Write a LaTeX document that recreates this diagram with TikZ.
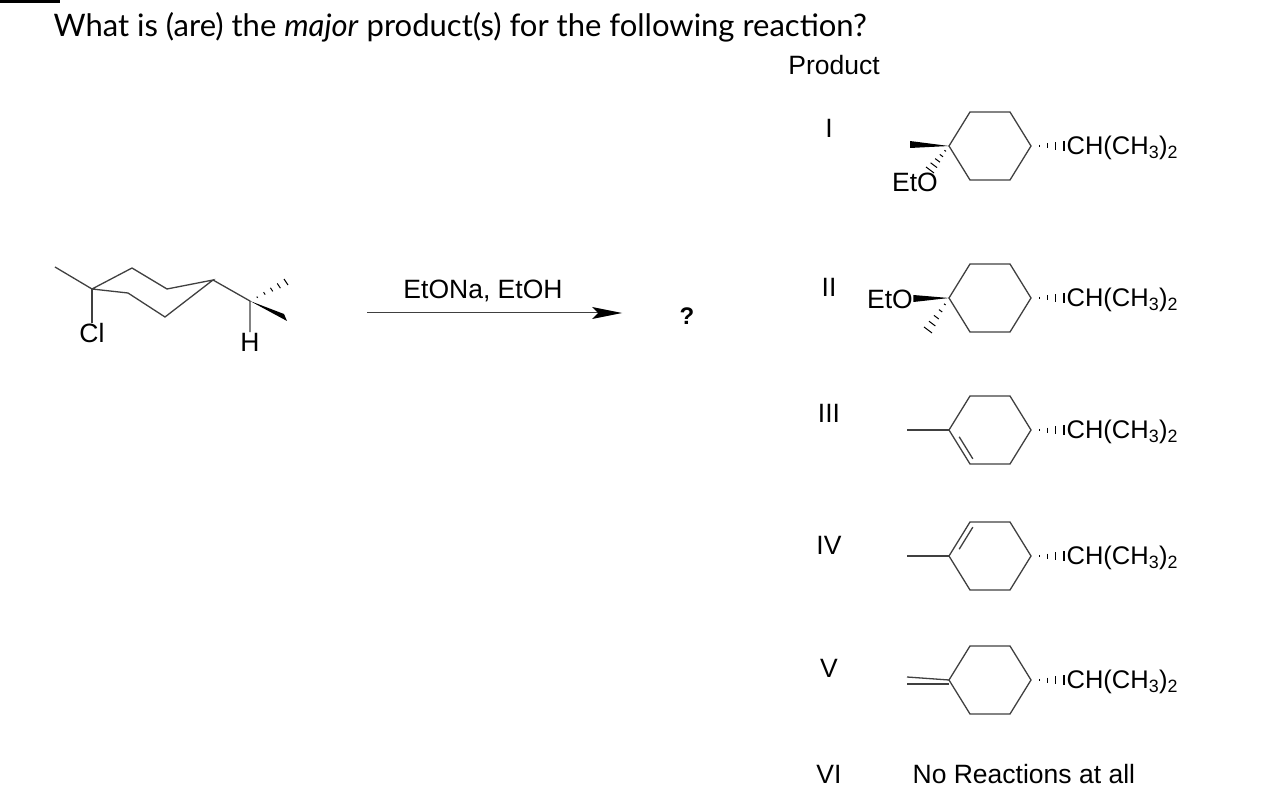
\documentclass[tikz,border=0pt]{standalone}
\usepackage{fontspec}
\setmainfont{Liberation Sans}
\newfontfamily\latofont{Lato}
\usetikzlibrary{calc}
\begin{document}
\begin{tikzpicture}[x=1pt,y=-1pt,line width=1.3pt,
  lbl/.style={font=\fontsize{26.5}{30}\selectfont,inner sep=0pt},
  bnd/.style={draw=black!75,line width=1.3pt}]
\useasboundingbox (0,0) rectangle (1286,802);
\draw[line width=3pt] (0,1.5) -- (60,1.5);
\node[font=\latofont\fontsize{31}{34}\selectfont,anchor=west,inner sep=0pt] (title) at (53,27) {What is (are) the \textit{major} product(s) for the following reaction?};
\node[lbl] (prod) at (834,65) {Product};
% chair
\coordinate (me) at (55,267);
\coordinate (c1) at (92,289);
\coordinate (c2) at (132,268);
\coordinate (c3) at (167,289);
\coordinate (c4) at (213,280);
\coordinate (c5) at (165,317);
\coordinate (c6) at (128,293);
\coordinate (ch) at (250,301);
\node[lbl] (cl) at (92,333) {Cl};
\node[lbl] (h) at (250,342) {H};
\draw[bnd] (me)--(c1)--(c2)--(c3)--(c4)--(c5)--(c6)--(c1);
\draw[bnd] (c1)--(cl.north);
\draw[bnd] (c4)--(ch)--(h.north);
\fill (ch) -- (284,314) -- (287,321) -- cycle;
\foreach \t in {0.2,0.4,0.6,0.8,1.0}
  \draw[line width=1pt] ($(ch)!\t!(286,282)+(-\t*2,-\t*3)$) -- ($(ch)!\t!(286,282)+(\t*2,\t*3)$);
% arrow
\coordinate (a1) at (367,313);
\coordinate (a2) at (622,313);
\draw[bnd,line width=1pt] (a1)--(598,313);
\fill (a2) -- (592,307) -- (598,313) -- (592,319) -- cycle;
\node[lbl] (cond) at (483,291) {EtONa, EtOH};
\node[lbl,font=\bfseries\fontsize{24}{28}\selectfont] (q) at (687,316) {?};
% numerals
\node[lbl] (n1) at (829,128) {I};
\node[lbl] (n2) at (829,287) {II};
\node[lbl] (n3) at (829,413) {III};
\node[lbl] (n4) at (829,545) {IV};
\node[lbl] (n5) at (829,668) {V};
\node[lbl] (n6) at (829,774) {VI};
\node[lbl,anchor=west] (none) at (912,774) {No Reactions at all};
% rings
\foreach \y/\n in {146/a,298/b,430/c,556/d,680/e}{
  \coordinate (\n L) at (949,\y);
  \coordinate (\n TL) at (970,\y-34);
  \coordinate (\n TR) at (1010,\y-34);
  \coordinate (\n R) at (1031,\y);
  \coordinate (\n BR) at (1010,\y+34);
  \coordinate (\n BL) at (970,\y+34);
  \draw[bnd] (\n L)--(\n TL)--(\n TR)--(\n R)--(\n BR)--(\n BL)--cycle;
  \node[lbl,anchor=west,font=\fontsize{25.5}{30}\selectfont] (\n iso) at (1066,\y+2) {CH(CH\textsubscript{3})\textsubscript{2}};
  \foreach \t in {0.25,0.5,0.75,1.0}
    \draw[line width=1.2pt] ($(\n R)!\t!(1064,\y)+(0,-\t*5)$) -- ($(\n R)!\t!(1064,\y)+(0,\t*5)$);
}
% I
\fill (aL) -- (910,141) -- (910,148) -- cycle;
\node[lbl] (eto1) at (915,182) {EtO};
\foreach \t in {0.2,0.4,0.6,0.8,1.0}
  \draw[line width=1pt] ($(aL)!\t!(930,170)+(-\t*4,-\t*3)$) -- ($(aL)!\t!(930,170)+(\t*4,\t*3)$);
% II
\node[lbl] (eto2) at (890,299) {EtO};
\fill (bL) -- (eto2.east |- 0,295) -- (eto2.east |- 0,302) -- cycle;
\foreach \t in {0.2,0.4,0.6,0.8,1.0}
  \draw[line width=1pt] ($(bL)!\t!(928,330)+(-\t*4,-\t*3)$) -- ($(bL)!\t!(928,330)+(\t*4,\t*3)$);
% III
\draw[bnd] (907,430) -- (cL);
\draw[bnd] ($(cL)!0.2!(cBL)+(6,0)$) -- ($(cL)!0.85!(cBL)+(6,0)$);
% IV
\draw[bnd] (907,556) -- (dL);
\draw[bnd] ($(dL)!0.2!(dTL)+(6,0)$) -- ($(dL)!0.85!(dTL)+(6,0)$);
% V
\draw[bnd] (907,677) -- (eL);
\draw[bnd] (907,684) -- (949,684);
\end{tikzpicture}
\end{document}
